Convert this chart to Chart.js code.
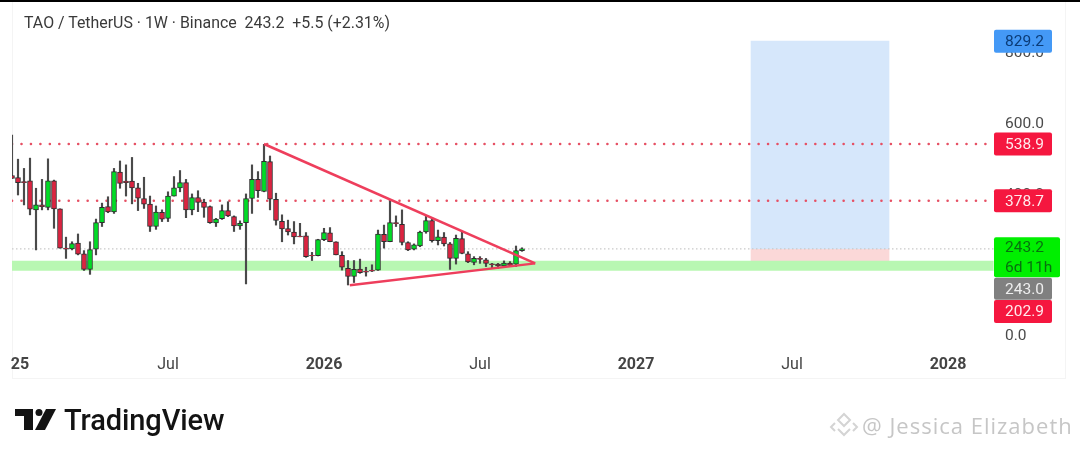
<!DOCTYPE html>
<html>
<head>
<meta charset="utf-8">
<title>TAO / TetherUS</title>
<script src="https://cdn.jsdelivr.net/npm/chart.js@4"></script>
<style>
  html, body { margin: 0; padding: 0; background: #fff; }
  #wrap { position: relative; width: 1080px; height: 451px; overflow: hidden; font-family: Roboto, sans-serif; }
  #topbar { position: absolute; left: 0; top: 0; width: 1080px; height: 2px; background: #000; }
  #frame { position: absolute; left: 12px; top: 2px; width: 1054px; height: 377px; border: 1px solid #f4f4f4; border-top: 0; box-sizing: border-box; }
  #tvChart { position: absolute; left: 0; top: 0; filter: blur(0.35px); }
  #title { position: absolute; left: 24px; top: 13px; font-size: 15.9px; line-height: 20px; color: #3a3a3a; white-space: pre; }
  #logo { position: absolute; left: 15px; top: 409px; }
  #brand { position: absolute; left: 64px; top: 403px; font-size: 29px; line-height: 34px; font-weight: 500; color: #131313; letter-spacing: -0.1px; }
  #mark { position: absolute; left: 829px; top: 412px; }
  #credit { position: absolute; left: 862px; top: 410px; font-family: "Open Sans", sans-serif; font-size: 22px; line-height: 30px; color: #c6c6c6; letter-spacing: 1px; white-space: pre; }
</style>
</head>
<body>
<div id="wrap">
  <div id="frame"></div>
  <canvas id="tvChart" width="1080" height="451"></canvas>
  <div id="topbar"></div>
  <div id="title">TAO / TetherUS · 1W · Binance  243.2  +5.5 (+2.31%)</div>
  <svg id="logo" width="42" height="22" viewBox="0 0 42 22">
    <path d="M0 0H18V21H9V7H0Z" fill="#131313"/>
    <circle cx="24" cy="3.5" r="3.5" fill="#131313"/>
    <path d="M31 0H41L30 21H20Z" fill="#131313"/>
  </svg>
  <div id="brand">TradingView</div>
  <svg id="mark" width="30" height="28" viewBox="0 0 30 28" fill="none" stroke="#d4d4d4" stroke-width="2">
    <path d="M15 2L21 8L15 14L9 8Z"/>
    <path d="M6 11L2 15L6 19M24 11L28 15L24 19"/>
    <path d="M9 17L15 23L21 17"/>
  </svg>
  <div id="credit">@ Jessica Elizabeth</div>
</div>

<script>
const opens = [450,444,433,435,353,367,360,435,356,245,243,259,229,185,242,317,362,347,460,434,434,415,385,369,306,346,329,392,415,430,353,388,375,362,316,328,351,334,308,317,385,439,405,489,383,321,300,290,279,280,225,224,269,288,263,225,188,165,186,180,183,183,284,263,317,312,261,242,251,291,323,266,276,257,216,272,229,205,216,212,201,200,195,203,200,238];
const highs = [564,496,470,499,414,439,497,437,356,276,263,285,238,263,327,372,390,470,491,480,501,428,445,392,364,353,404,447,464,439,398,407,383,364,329,367,376,336,322,398,480,461,538,505,400,339,324,320,315,289,233,270,301,303,263,235,210,210,214,191,198,296,310,379,336,353,263,257,293,336,332,296,289,261,282,293,235,221,221,216,202,202,209,207,251,246];
const lows = [442,395,367,339,240,353,353,301,245,216,240,226,182,171,226,306,345,343,414,392,370,351,357,292,298,320,320,392,404,331,339,348,332,315,306,326,334,292,298,144,343,388,404,353,310,263,282,257,277,219,210,223,266,263,226,183,141,148,174,166,179,182,245,263,306,254,238,240,249,287,262,254,251,185,200,229,204,198,202,193,188,188,191,193,193,236];
const closes = [442,430,430,355,367,362,435,356,245,242,258,228,185,241,317,360,347,461,428,430,415,386,369,306,347,327,392,415,430,353,388,374,360,317,327,351,336,308,315,385,439,407,490,383,323,299,291,277,277,221,223,269,289,263,226,191,165,185,176,177,180,285,263,317,314,261,240,254,290,323,266,277,257,216,273,230,206,216,213,202,198,195,203,196,238,243.2];

const tickWeeks = [1.33, 26, 52, 78, 104, 130, 156];
const tickTexts = ['25', 'Jul', '2026', 'Jul', '2027', 'Jul', '2028'];
const boldTicks = ['25', '2026', '2027', '2028'];

const resistanceLevels = [538.9, 378.7];
const lastPrice = 243.2;
const supportLevel = 195;
const levelEndWeek = 163.6;

const upperTrendX = [42, 87.2];
const upperTrendY = [538.9, 202];
const lowerTrendX = [56.3, 87.2];
const lowerTrendY = [140, 202];

const targetWeek = 134.67;
const targetRange = [243.2, 829.2];
const stopRange = [202.9, 243.0];

const tagValues = [829.2, 538.9, 378.7, 243.2, 243.0, 202.9];
const tagTexts = ['829.2', '538.9', '378.7', '243.2', '243.0', '202.9'];

const GREEN = '#00dc26';
const RED = '#dc2340';

function hLine(y) {
    return [{ x: 0, y }, { x: levelEndWeek, y }];
}
function zipXY(xs, ys) {
    return xs.map((x, i) => ({ x, y: ys[i] }));
}

const isUp = i => closes[i] >= opens[i];

const priceTags = {
    id: 'priceTags',
    afterDraw(chart) {
        const { ctx, scales: { y } } = chart;
        // boxes get pushed down when they collide, like TradingView does it
        const styles = [
            { bg: '#4499f6', fg: '#0b3c78', w: 58, h: 23, shift: 0 },
            { bg: '#f5173f', fg: '#ffe9ec', w: 58, h: 23, shift: 0 },
            { bg: '#f5173f', fg: '#ffe9ec', w: 58, h: 23, shift: 0 },
            { bg: '#00ef00', fg: '#07700f', w: 66, h: 40, shift: 8.5, sub: '6d 11h' },
            { bg: '#808080', fg: '#eeeeee', w: 58, h: 22, shift: 40 },
            { bg: '#f5173f', fg: '#ffe9ec', w: 58, h: 23, shift: 48.5 },
        ];
        ctx.save();
        ctx.font = '15.5px Roboto, sans-serif';
        ctx.textBaseline = 'middle';
        tagValues.forEach((v, i) => {
            const s = styles[i];
            const cy = y.getPixelForValue(v) + s.shift;
            ctx.fillStyle = s.bg;
            ctx.beginPath();
            ctx.roundRect(994, cy - s.h / 2, s.w, s.h, 2);
            ctx.fill();
            ctx.fillStyle = s.fg;
            if (s.sub) {
                ctx.fillText(tagTexts[i], 1005, cy - 9);
                ctx.fillText(s.sub, 1005, cy + 11);
            } else {
                ctx.fillText(tagTexts[i], 1005, cy + 1);
            }
        });
        ctx.restore();
    }
};

const datasets = [
    {
        type: 'line', order: 0, data: zipXY(upperTrendX, upperTrendY),
        borderColor: '#ee3e5c', borderWidth: 2.5, pointRadius: 0
    },
    {
        type: 'line', order: 0, data: zipXY(lowerTrendX, lowerTrendY),
        borderColor: '#ee3e5c', borderWidth: 2.5, pointRadius: 0
    },
    {
        type: 'bar', order: 1, grouped: false, barThickness: 5, borderWidth: 1,
        data: opens.map((o, i) => ({ x: i, y: [o, closes[i]] })),
        backgroundColor: opens.map((o, i) => isUp(i) ? GREEN : RED),
        borderColor: '#2e2e2e', borderSkipped: false
    },
    {
        type: 'bar', order: 2, grouped: false, barThickness: 1.5,
        data: highs.map((h, i) => ({ x: i, y: [lows[i], h] })),
        backgroundColor: '#4a4a4a'
    },
    ...resistanceLevels.map(v => ({
        type: 'line', order: 3, data: hLine(v), pointRadius: 0,
        borderColor: '#e65064', borderWidth: 2.5, borderDash: [0.1, 9.35], borderCapStyle: 'round'
    })),
    {
        type: 'line', order: 3, data: hLine(lastPrice), pointRadius: 0,
        borderColor: '#c9c9c9', borderWidth: 1.2, borderDash: [1.5, 2.5]
    },
    {
        type: 'line', order: 4, data: hLine(supportLevel), pointRadius: 0,
        borderColor: '#b8f7b2', borderWidth: 10
    },
    {
        type: 'bar', order: 5, grouped: false, barThickness: 138,
        data: [{ x: targetWeek, y: targetRange }], backgroundColor: '#d6e7fb'
    },
    {
        type: 'bar', order: 5, grouped: false, barThickness: 138,
        data: [{ x: targetWeek, y: stopRange }], backgroundColor: '#fbd8d8'
    }
];

new Chart(document.getElementById('tvChart').getContext('2d'), {
    data: { datasets },
    plugins: [priceTags],
    options: {
        responsive: false,
        devicePixelRatio: 1,
        animation: false,
        layout: { padding: { left: 12, top: 13, right: 0, bottom: 72 } },
        plugins: { legend: { display: false }, tooltip: { enabled: false } },
        scales: {
            x: {
                type: 'linear',
                offset: false,
                min: 0,
                max: 164,
                grid: { display: false },
                border: { display: false },
                afterBuildTicks: axis => { axis.ticks = tickWeeks.map(value => ({ value })); },
                afterFit: axis => { axis.height = 32; axis.paddingLeft = 0; axis.paddingRight = 0; },
                ticks: {
                    autoSkip: false,
                    maxRotation: 0,
                    padding: 0,
                    color: '#444',
                    font: ctx => ({
                        family: 'Roboto, sans-serif',
                        size: 16,
                        weight: boldTicks.includes(tickTexts[ctx.index]) ? 'bold' : 'normal'
                    }),
                    callback: (v, i) => tickTexts[i]
                }
            },
            y: {
                position: 'right',
                min: -34,
                max: 908.6,
                grid: { display: false },
                border: { display: false },
                afterFit: axis => { axis.width = 84; axis.paddingTop = 0; axis.paddingBottom = 0; },
                ticks: {
                    stepSize: 200,
                    includeBounds: false,
                    padding: 1,
                    labelOffset: 1.5,
                    color: '#4a4a4a',
                    font: { family: 'Roboto, sans-serif', size: 15.5 },
                    callback: v => v.toFixed(1)
                }
            }
        }
    }
});
</script>
</body>
</html>
